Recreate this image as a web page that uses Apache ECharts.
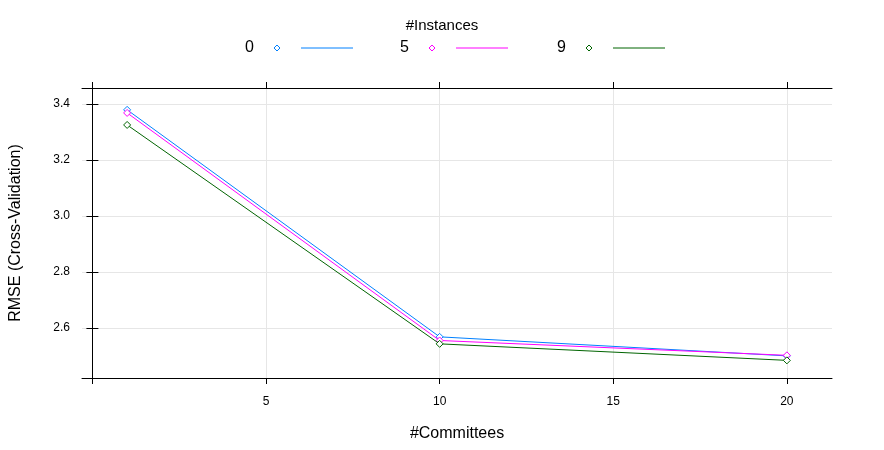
<!DOCTYPE html>
<html><head><meta charset="utf-8">
<script src="https://cdn.jsdelivr.net/npm/echarts@6/dist/echarts.min.js"></script>
<style>html,body{margin:0;padding:0;background:#fff}#c{width:884px;height:450px}</style>
</head><body><div id="c"></div>
<script>
var committees = [1, 10, 20];
var instances = ['0', '5', '9'];
var rmse0 = [3.379, 2.568, 2.500];
var rmse5 = [3.368, 2.555, 2.502];
var rmse9 = [3.325, 2.543, 2.484];
var xTicks = [0, 5, 10, 15, 20];
var xLabels = [5, 10, 15, 20];
var yTicks = [2.6, 2.8, 3.0, 3.2, 3.4];
var colors = ['#0080ff', '#ff00ff', '#006400'];
var allY = [rmse0, rmse5, rmse9];

var chart = echarts.init(document.getElementById('c'));
var font = 'Liberation Sans';
function mkSeries(i){
  return {
    name: instances[i], type: 'line', xAxisIndex: 0, yAxisIndex: 0,
    data: committees.map(function(c, j){ return [c, allY[i][j]]; }),
    symbol: 'diamond', symbolSize: 7, showSymbol: true,
    itemStyle: {color: '#fff', borderColor: colors[i], borderWidth: 1},
    lineStyle: {color: colors[i], width: 1}, z: 3 + i
  };
}
var legendG = [{type:'text', left:'center', top:18, style:{text:'#Instances', font:'15px '+font, fill:'#000'}}];
var lx = [245, 400, 557];
instances.forEach(function(n, i){
  var x = lx[i];
  legendG.push({type:'text', left:x, top:40, style:{text:n, font:'16px '+font, fill:'#000'}});
  legendG.push({type:'polygon', shape:{points:[[x+32,45],[x+35,48],[x+32,51],[x+29,48]]}, style:{fill:'#fff', stroke:colors[i], lineWidth:1}});
  legendG.push({type:'line', shape:{x1:x+56, y1:48, x2:x+108, y2:48}, style:{stroke:colors[i], lineWidth:1}});
});
var axCommon = {
  type: 'value', min: -0.3, max: 21.3,
  axisLine: {show: true, onZero: false, lineStyle: {color: '#000'}},
  axisTick: {show: true, inside: false, length: 6, customValues: xTicks, lineStyle: {color: '#000'}}
};
chart.setOption({
  animation: false,
  graphic: legendG,
  grid: {left: 77, right: 52, top: 88, bottom: 72},
  xAxis: [
    Object.assign({}, axCommon, {position: 'bottom', name: '#Committees', nameLocation: 'middle', nameGap: 48,
      nameTextStyle: {fontSize: 16, fontFamily: font, color: '#000'},
      axisLabel: {customValues: xLabels, color: '#000', fontSize: 12, fontFamily: font, margin: 18},
      splitLine: {show: true, lineStyle: {color: '#e6e6e6'}}}),
    Object.assign({}, axCommon, {position: 'top', axisLabel: {show: false}, splitLine: {show: false}})
  ],
  yAxis: [
    {type: 'value', min: 2.421, max: 3.457, position: 'left',
      name: 'RMSE (Cross-Validation)', nameLocation: 'middle', nameGap: 58, nameRotate: 90,
      nameTextStyle: {fontSize: 16, fontFamily: font, color: '#000'},
      axisLine: {show: true, lineStyle: {color: '#000'}},
      axisTick: {show: true, length: 6, customValues: yTicks, lineStyle: {color: '#000'}},
      axisLabel: {customValues: yTicks, color: '#000', fontSize: 12, fontFamily: font, margin: 12,
        formatter: function(v){ return v.toFixed(1); }},
      splitLine: {show: true, lineStyle: {color: '#e6e6e6'}}},
    {type: 'value', min: 2.421, max: 3.457, position: 'right',
      axisLine: {show: true, lineStyle: {color: '#000'}},
      axisTick: {show: true, length: 6, customValues: yTicks, lineStyle: {color: '#000'}},
      axisLabel: {show: false}, splitLine: {show: false}}
  ],
  series: [mkSeries(0), mkSeries(1), mkSeries(2)]
});
</script></body></html>
